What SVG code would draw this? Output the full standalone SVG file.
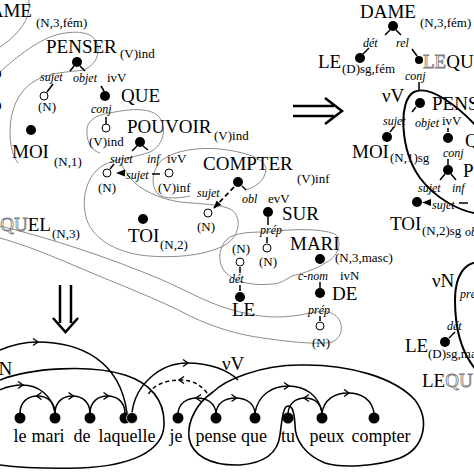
<svg xmlns="http://www.w3.org/2000/svg" width="474" height="474" viewBox="0 0 474 474">
<defs>
<style>
.t{font-family:"Liberation Serif","Times New Roman",serif;fill:#000}
.b{font-size:19px}
.s{font-size:13px}
.i{font-size:12px;font-style:italic}
.w{font-size:18px}
.o{fill:none;stroke:#7a7a7a;stroke-width:0.8}
.g{fill:none;stroke:#8c8c8c;stroke-width:1}
.k{fill:none;stroke:#000;stroke-width:1.6}
.e{fill:none;stroke:#000;stroke-width:2}
.a{fill:none;stroke:#000;stroke-width:1.5}
.dot{fill:#000}
.hol{fill:#fff;stroke:#000;stroke-width:1}
</style>
<marker id="chev" viewBox="0 0 10 10" refX="6" refY="5" markerWidth="10" markerHeight="10" markerUnits="userSpaceOnUse" orient="auto">
<path d="M2,1.5 L7,5 L2,8.5" fill="none" stroke="#000" stroke-width="1.4"/>
</marker>
<marker id="tri" viewBox="0 0 10 10" refX="9" refY="5" markerWidth="8" markerHeight="8" markerUnits="userSpaceOnUse" orient="auto">
<path d="M0,1 L10,5 L0,9 Z" fill="#000"/>
</marker>
</defs>
<rect width="474" height="474" fill="#fff"/>

<!-- gray bubbles (left tree) -->
<g id="bubbles">
<path class="g" d="M0,47 C14,38 27,24 29,10 L29,0"/>
<path class="g" d="M0,72 C15,58 40,38 60,34 C78,30 96,32 98,47 C99,60 92,66 84,70 C70,72 48,72 33,82 C18,92 10,110 10,132 C10,148 14,158 18,163"/>
<path class="g" d="M100,153 C90,150 86,140 87,128 C89,118 100,114 115,112 C135,108 155,108 161,120 C167,132 162,146 150,152 C135,158 115,158 102,166 C88,175 82,195 85,212 C88,235 110,250 140,255 C170,259 205,256 225,245 C240,236 242,218 232,210 C222,204 200,204 180,202 C160,199 140,190 130,178 C126,172 123,167 120,163"/>
<path class="g" d="M245,190 C255,188 265,180 266,170 C266,158 245,152 220,149 C200,147 175,150 162,160 C152,170 150,185 158,194 C165,200 180,198 190,196"/>
<path class="g" d="M270,232 C290,229 320,228 335,234 C342,240 340,255 327,262 C315,270 300,274 292,276 C285,280 280,284 272,284 C255,286 235,283 225,272 C217,262 218,245 230,237 C240,232 255,232 270,232"/>
<path class="g" d="M0,226 C50,238 110,258 160,279 C190,292 210,305 240,312 C265,318 280,318 300,315 C315,312 330,308 338,318 C344,326 342,338 332,342 C320,345 290,342 263,338 C240,335 215,328 190,316 C160,300 120,285 80,268 C50,255 25,245 0,238"/>
</g>

<!-- left tree -->
<g id="l-dame">
<text class="t b" x="-24" y="17">DAME</text>
<text class="t s" x="36" y="27">(N,3,fém)</text>
</g>
<text class="t s" x="-5" y="78" font-weight="bold">0</text>
<text class="t s" x="-5" y="110" font-weight="bold">0</text>
<g id="l-penser">
<text class="t b" x="46" y="53">PENSER</text>
<text class="t s" x="120" y="58">(V)ind</text>
<circle class="dot" cx="77" cy="62" r="5"/>
<path class="a" d="M74,66 L70,71 M80,66 L85,71"/>
<text class="t i" x="40" y="81">sujet</text>
<text class="t i" x="73" y="82">objet</text>
<text class="t s" x="107" y="82">ivV</text>
</g>
<g id="l-n1">
<circle class="hol" cx="44" cy="96" r="4"/>
<path class="a" d="M47,92 L53,84"/>
<text class="t s" x="38" y="111">(N)</text>
</g>
<g id="l-que">
<circle class="dot" cx="105" cy="96" r="5"/>
<path class="a" d="M104,91 L101,86"/>
<text class="t b" x="121" y="102">QUE</text>
<text class="t i" x="91" y="113">conj</text>
<path class="a" d="M106,117 L106,124"/>
<circle class="hol" cx="106" cy="128" r="4"/>
<text class="t s" x="89" y="146">(V)ind</text>
</g>
<g id="l-moi">
<circle class="dot" cx="31" cy="130" r="5"/>
<text class="t b" x="12" y="158">MOI</text>
<text class="t s" x="54" y="166">(N,1)</text>
</g>
<g id="l-pouvoir">
<text class="t b" x="127" y="133">POUVOIR</text>
<text class="t s" x="214" y="140">(V)ind</text>
<circle class="dot" cx="140" cy="142" r="5"/>
<path class="a" d="M137,146 L132,151 M143,146 L148,150"/>
<text class="t i" x="110" y="163">sujet</text>
<text class="t i" x="147" y="163">inf</text>
<text class="t s" x="167" y="163">ivV</text>
<circle class="hol" cx="107" cy="173" r="4"/>
<path class="a" d="M110,169 L114,164"/>
<text class="t s" x="98" y="192">(N)</text>
<path d="M116,173 L125,169.5 L125,176.5 Z" fill="#000"/>
<text class="t i" x="126" y="179">sujet</text>
<path class="a" d="M152,174 L160,174"/>
<circle class="hol" cx="169" cy="173" r="4"/>
<text class="t s" x="158" y="192">(V)inf</text>
</g>
<g id="l-compter">
<text class="t b" x="203" y="170">COMPTER</text>
<text class="t s" x="297" y="183">(V)inf</text>
<circle class="dot" cx="238" cy="182" r="5"/>
<path class="a" d="M242,186 L246,190"/>
<text class="t i" x="197" y="197">sujet</text>
<path d="M234,187 L214,208" fill="none" stroke="#000" stroke-width="1.8" stroke-dasharray="5,3" marker-end="url(#tri)"/>
<circle class="hol" cx="208" cy="213" r="4"/>
<text class="t s" x="197" y="231">(N)</text>
<text class="t i" x="242" y="203">obl</text>
</g>
<g id="l-sur">
<text class="t s" x="268" y="203">evV</text>
<circle class="dot" cx="268" cy="212" r="5"/>
<text class="t b" x="282" y="220">SUR</text>
<path class="a" d="M268,217 L268,225"/>
<text class="t i" x="260" y="234">prép</text>
<path class="a" d="M267,237 L267,243"/>
<circle class="hol" cx="267" cy="248" r="4"/>
<text class="t s" x="259" y="266">(N)</text>
</g>
<g id="l-toi">
<circle class="dot" cx="143" cy="219" r="5"/>
<text class="t b" x="128" y="242">TOI</text>
<text class="t s" x="160" y="249">(N,2)</text>
</g>
<g id="l-lequel">
<text class="t b" x="-23" y="231"><tspan class="o">LEQU</tspan>EL</text>
<text class="t s" x="52" y="238">(N,3)</text>
</g>
<g id="l-mari">
<text class="t b" x="290" y="250">MARI</text>
<text class="t s" x="335" y="262">(N,3,masc)</text>
<circle class="dot" cx="320" cy="259" r="5"/>
<text class="t i" x="298" y="280">c-nom</text>
<text class="t s" x="340" y="280">ivN</text>
</g>
<g id="l-de">
<path class="a" d="M320,282 L320,288"/>
<circle class="dot" cx="320" cy="293" r="5"/>
<text class="t b" x="332" y="300">DE</text>
<text class="t i" x="308" y="314">prép</text>
<path class="a" d="M320,316 L320,321"/>
<circle class="hol" cx="320" cy="326" r="4"/>
<text class="t s" x="312" y="347">(N)</text>
</g>
<g id="l-le">
<text class="t s" x="232" y="253">(N)</text>
<circle class="hol" cx="240" cy="262" r="4"/>
<path class="a" d="M240,267 L240,273"/>
<text class="t i" x="229" y="283">dét</text>
<path class="a" d="M240,285 L240,291"/>
<circle class="dot" cx="240" cy="297" r="5"/>
<text class="t b" x="232" y="316">LE</text>
</g>

<!-- big arrows -->
<g id="arrows">
<path d="M293,106 H334 M293,116 H334 M325,98 L342,111 L325,124" fill="none" stroke="#000" stroke-width="2.5"/>
<path d="M60,285 V323 M71,285 V323 M53,318 L65.5,332 L78,318" fill="none" stroke="#000" stroke-width="2.5"/>
</g>

<!-- right tree -->
<g id="r-dame">
<text class="t b" x="360" y="18">DAME</text>
<text class="t s" x="420" y="27">(N,3,fém)</text>
<circle class="dot" cx="393" cy="26" r="5"/>
<path class="a" d="M390,30 L385,35 M396,30 L401,35"/>
<text class="t i" x="363" y="47">dét</text>
<text class="t i" x="396" y="47">rel</text>
</g>
<g id="r-le">
<circle class="dot" cx="360" cy="58" r="5"/>
<path class="a" d="M363,54 L369,48"/>
<text class="t b" x="318" y="68">LE</text>
<text class="t s" x="342" y="73">(D)sg,fém</text>
</g>
<g id="r-lequ">
<path class="a" d="M412,49 L417,56"/>
<circle class="dot" cx="419" cy="60" r="4"/>
<text class="t b" x="423" y="68"><tspan class="o">LE</tspan>QU</text>
<text class="t i" x="405" y="80">conj</text>
<path class="a" d="M419,82 L419,90"/>
</g>
<g id="r-penser">
<text class="t b" x="382" y="102">νV</text>
<circle class="dot" cx="420" cy="103" r="5"/>
<path class="a" d="M416,107 L412,112"/>
<text class="t b" x="432" y="110">PENSER</text>
<text class="t i" x="383" y="125">sujet</text>
<text class="t i" x="415" y="127">objet</text>
<text class="t s" x="442" y="125">ivV</text>
</g>
<g id="r-moi">
<circle class="dot" cx="387" cy="137" r="5"/>
<path class="a" d="M390,132 L394,127"/>
<text class="t b" x="352" y="158">MOI</text>
<text class="t s" x="390" y="162">(N,1)sg</text>
</g>
<g id="r-que">
<circle class="dot" cx="448" cy="138" r="5"/>
<path class="a" d="M448,132 L448,128"/>
<text class="t b" x="465" y="147">QUE</text>
<text class="t i" x="443" y="157">conj</text>
</g>
<g id="r-pouvoir">
<path class="a" d="M448,159 L448,165"/>
<circle class="dot" cx="448" cy="170" r="5"/>
<path class="a" d="M445,174 L440,180 M451,174 L456,180"/>
<text class="t b" x="463" y="177">POUVOIR</text>
<text class="t i" x="418" y="192">sujet</text>
<text class="t i" x="452" y="192">inf</text>
</g>
<g id="r-toi">
<circle class="dot" cx="417" cy="202" r="5"/>
<path d="M422,202.5 L431,199 L431,206 Z" fill="#000"/>
<text class="t i" x="432" y="209">sujet</text>
<path class="a" d="M459,203 L468,203"/>
<text class="t b" x="390" y="230">TOI</text>
<text class="t s" x="422" y="235">(N,2)sg</text>
<text class="t i" x="465" y="236">obl</text>
</g>
<path id="r-ellipse-v" class="e" d="M478,128 C460,108 430,84 414,92 C398,100 400,150 420,178 C435,198 460,212 480,214"/>
<g id="r-nn">
<path class="e" d="M480,262 C465,262 455,275 455,300 C455,330 462,355 478,372"/>
<text class="t b" x="432" y="287">νN</text>
<text class="t i" x="460" y="298">prép</text>
<text class="t i" x="447" y="330">dét</text>
<circle class="dot" cx="445" cy="342" r="5"/>
<path class="a" d="M449,338 L455,332"/>
<text class="t b" x="405" y="352">LE</text>
<text class="t s" x="428" y="358">(D)sg,masc</text>
<text class="t b" x="422" y="387">LE<tspan class="o">QU</tspan></text>
</g>

<!-- bottom: dependency arcs over the sentence -->
<g id="connectors">
<path class="k" d="M0,380 C30,368 90,364 125,375 C150,383 165,400 164,425 C163,452 130,466 80,468 C40,469 15,467 0,465"/>
<path class="k" d="M213,392 C225,380 260,365 300,365 C350,364 395,378 415,400 C430,420 425,448 400,458 C375,467 340,468 325,463 C305,455 295,440 295,425 C294,410 292,406 288,406 C283,406 282,420 280,435 C278,452 265,463 240,465 C210,466 192,455 189,438 C187,420 198,402 213,392 Z"/>
<g class="a" marker-mid="url(#chev)">
<path d="M55,413 C55,402 47,396 37.5,396 C28,396 20,402 20,413"/>
<path d="M55,413 C55,402 63,396 72.5,396 C82,396 90,402 90,413"/>
<path d="M90,413 C90,402 98,396 107.5,396 C117,396 125,402 125,413"/>
<path d="M-5,392 C5,387 13,385 22,385 C38,385 52,395 55,413"/>
<path d="M0,350 C12,345 25,342 37,342 C80,342 120,360 127,413"/>
<path d="M132,413 C135,385 160,363 187,363 C210,363 228,370 238,380"/>
<path d="M207,393 C200,384 192,380 180,380 C165,380 152,386 148,395" stroke-dasharray="4,3"/>
<path d="M216,413 C215,403 207,398 197,398 C187,398 179,403 178,413"/>
<path d="M216,413 C217,403 225,398 235.5,398 C246,398 254,403 255,413"/>
<path d="M255,413 C258,395 272,386 288,386 C305,386 319,395 322,413"/>
<path d="M322,413 C321,403 314,398 305,398 C296,398 289,403 288,413"/>
<path d="M322,413 C324,400 334,393 348,393 C362,393 372,400 374,413"/>
</g>
</g>
<g id="words">
<text class="t b" x="-10" y="375">νN</text>
<text class="t b" x="222" y="370">νV</text>
<circle class="dot" cx="20" cy="418" r="5.5"/>
<circle class="dot" cx="55" cy="418" r="5.5"/>
<circle class="dot" cx="90" cy="418" r="5.5"/>
<circle class="dot" cx="125" cy="418" r="5.5"/>
<circle class="dot" cx="132" cy="418" r="5.5" stroke="#fff" stroke-width="0.7"/>
<circle class="dot" cx="178" cy="418" r="5.5"/>
<circle class="dot" cx="216" cy="418" r="5.5"/>
<circle class="dot" cx="255" cy="418" r="5.5"/>
<circle class="dot" cx="288" cy="418" r="5.5"/>
<circle class="dot" cx="322" cy="418" r="5.5"/>
<circle class="dot" cx="374" cy="418" r="5.5"/>
<g class="t w" text-anchor="middle">
<text x="20" y="442">le</text>
<text x="48" y="442">mari</text>
<text x="82" y="442">de</text>
<text x="127" y="442">laquelle</text>
<text x="176" y="442">je</text>
<text x="216" y="442">pense</text>
<text x="254" y="442">que</text>
<text x="288" y="442">tu</text>
<text x="327" y="442">peux</text>
<text x="381" y="442">compter</text>
</g>
</g>
</svg>
